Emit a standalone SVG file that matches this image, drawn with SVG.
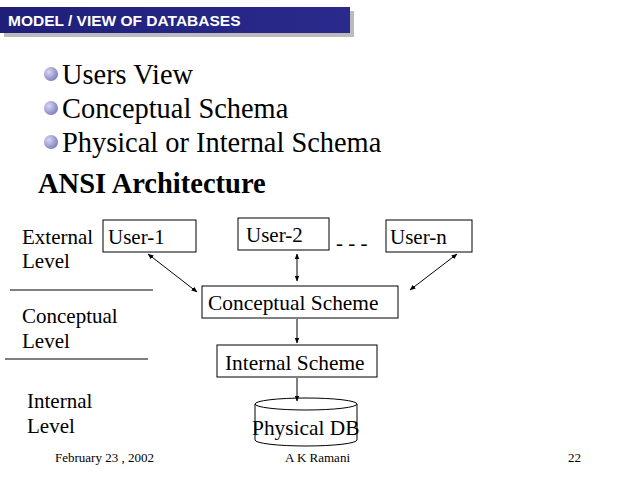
<svg xmlns="http://www.w3.org/2000/svg" width="638" height="478" viewBox="0 0 638 478">
<style>
.t{font-family:"Liberation Serif",serif;fill:#000}
.b{fill:#fff;stroke:#000;stroke-width:1}
.c{stroke:#000;stroke-width:1;fill:none}
</style>
<defs>
<linearGradient id="g" x1="0" x2="1"><stop offset="0" stop-color="#1f1f7a"/><stop offset="1" stop-color="#2a2a8c"/></linearGradient>
<radialGradient id="bl" cx="0.35" cy="0.35" r="0.7"><stop offset="0" stop-color="#d8d8f4"/><stop offset="1" stop-color="#7d7dc0"/></radialGradient>
<marker id="a" viewBox="0 0 10 10" refX="9" refY="5" markerWidth="6" markerHeight="6" orient="auto-start-reverse"><path d="M0,1L10,5L0,9z" fill="#000"/></marker>
</defs>
<rect width="638" height="478" fill="#fff"/>
<g id="header">
<rect x="4" y="11" width="350" height="26" fill="#bbb"/>
<rect x="0" y="7" width="350" height="26" fill="url(#g)"/>
<text x="8" y="26" font-family="Liberation Sans,sans-serif" font-weight="bold" font-size="15.5" fill="#fff">MODEL / VIEW OF DATABASES</text>
</g>
<g id="bullets">
<circle cx="51" cy="74" r="7" fill="url(#bl)"/><text class="t" x="62" y="84" font-size="28.4">Users View</text>
<circle cx="51" cy="108" r="7" fill="url(#bl)"/><text class="t" x="62" y="118" font-size="28.4">Conceptual Schema</text>
<circle cx="51" cy="142" r="7" fill="url(#bl)"/><text class="t" x="62" y="152" font-size="28.4">Physical or Internal Schema</text>
<text class="t" x="38" y="193" font-size="28.5" font-weight="bold">ANSI Architecture</text>
</g>
<g id="levels" class="t" font-size="21">
<text class="t" x="22" y="244">External</text><text class="t" x="22" y="268">Level</text>
<text class="t" x="22" y="323">Conceptual</text><text class="t" x="22" y="348">Level</text>
<text class="t" x="27" y="408">Internal</text><text class="t" x="27" y="433">Level</text>
<line class="c" x1="10" y1="290" x2="153" y2="290"/>
<line class="c" x1="5" y1="359" x2="148" y2="359"/>
</g>
<g id="user1"><rect class="b" x="103" y="220" width="93" height="32"/><text class="t" x="108" y="244" font-size="21">User-1</text></g>
<g id="user2"><rect class="b" x="238" y="218" width="91" height="32"/><text class="t" x="246" y="242" font-size="21">User-2</text></g>
<text class="t" x="336" y="250" font-size="21">- - -</text>
<g id="usern"><rect class="b" x="386" y="220" width="86" height="32"/><text class="t" x="390" y="244" font-size="21">User-n</text></g>
<g id="conceptual"><rect class="b" x="202" y="286" width="196" height="32"/><text class="t" x="208" y="310" font-size="21.4">Conceptual Scheme</text></g>
<g id="internal"><rect class="b" x="217" y="345" width="160" height="32"/><text class="t" x="225" y="370" font-size="21.4">Internal Scheme</text></g>
<g id="db">
<path class="b" d="M255,404 L255,440 A51,6 0 0 0 357,440 L357,404"/>
<ellipse class="b" cx="306" cy="404" rx="51" ry="6"/>
<text class="t" x="252" y="435" font-size="21.4">Physical DB</text>
</g>
<g id="connectors">
<line class="c" x1="148" y1="254" x2="197" y2="292" marker-start="url(#a)" marker-end="url(#a)"/>
<line class="c" x1="297" y1="254" x2="297" y2="281" marker-start="url(#a)" marker-end="url(#a)"/>
<line class="c" x1="457" y1="254" x2="410" y2="290" marker-start="url(#a)" marker-end="url(#a)"/>
<line class="c" x1="297" y1="319" x2="297" y2="343" marker-end="url(#a)"/>
<line class="c" x1="297" y1="378" x2="297" y2="401" marker-end="url(#a)"/>
</g>
<g id="footer" font-size="13">
<text class="t" x="55" y="462">February 23 , 2002</text>
<text class="t" x="285" y="462">A K Ramani</text>
<text class="t" x="568" y="462">22</text>
</g>
</svg>
